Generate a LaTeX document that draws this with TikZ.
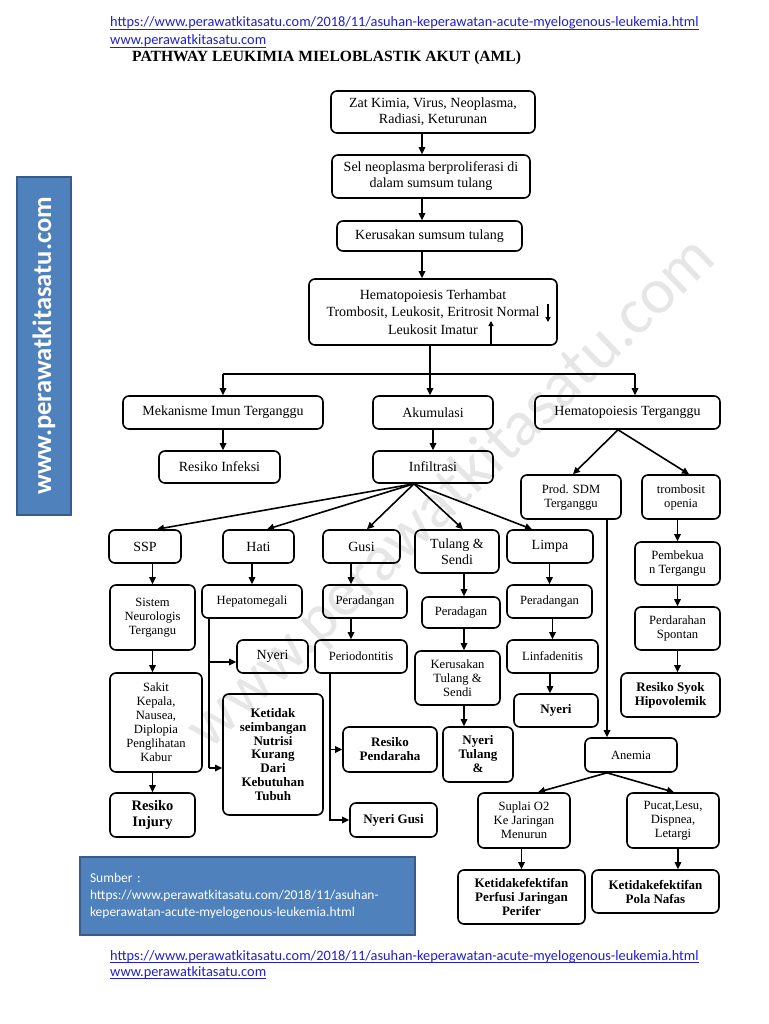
\documentclass[tikz,border=0pt]{standalone}
\usepackage{fontspec}
\setmainfont{Liberation Serif}
\newfontfamily\calib{Carlito}
\usetikzlibrary{arrows.meta,calc}
\definecolor{urlblue}{RGB}{32,32,200}
\definecolor{sideblue}{RGB}{79,129,189}
\definecolor{sideedge}{RGB}{56,93,138}
\definecolor{wmark}{RGB}{230,230,230}
\newcommand\mkbox[7]{%
 \pgfmathsetmacro\bw{#5-#3}\pgfmathsetmacro\bh{#6-#4}%
 \pgfmathsetmacro\bcx{(#3+#5)/2}\pgfmathsetmacro\bcy{(#4+#6)/2}%
 \node[#1, minimum width=\bw pt, minimum height=\bh pt] (#2) at (\bcx,\bcy) {#7};}
\begin{document}
\begin{tikzpicture}[x=1pt,y=-1pt,
  box/.style={draw, rounded corners=6pt, line width=1.6pt, align=center, inner sep=0pt, font=\fontsize{14}{16}\selectfont},
  sbox/.style={box, font=\fontsize{12.6}{14}\selectfont},
  bbox/.style={box, font=\bfseries\fontsize{13}{14}\selectfont},
  conn/.style={line width=1.6pt},
  arr/.style={conn, -{Triangle[length=7pt,width=6.5pt]}},
  sarr/.style={line width=1.3pt, -{Triangle[length=5pt,width=5pt]}},
  url/.style={inner sep=0pt, anchor=base west, text=urlblue, font=\calib\fontsize{14.35}{16}\selectfont},
  uline/.style={urlblue, line width=0.8pt},
  panel/.style={fill=sideblue, draw=sideedge, line width=1.5pt}
]
\useasboundingbox (0,0) rectangle (768,1024);
\fill[white] (0,0) rectangle (768,1024);

% watermark
\node[rotate=44, text=wmark, font=\calib\fontsize{65}{70}\selectfont] (wm) at (452,494) {www.perawatkitasatu.com};

% header
\node[url] (u1) at (110,27) {https://www.perawatkitasatu.com/2018/11/asuhan-keperawatan-acute-myelogenous-leukemia.html};
\draw[uline] ([yshift=-2pt]u1.base west) -- ([yshift=-2pt]u1.base east);
\node[url] (u2) at (110,45) {www.perawatkitasatu.com};
\draw[uline] ([yshift=-2pt]u2.base west) -- ([yshift=-2pt]u2.base east);
\node[anchor=base west, inner sep=0pt, font=\bfseries\fontsize{15.6}{18}\selectfont] (title) at (132,62) {PATHWAY LEUKIMIA MIELOBLASTIK AKUT (AML)};

% side panel
\node[panel, rotate=90, minimum width=338pt, minimum height=54pt, inner sep=0pt, text=white, font=\calib\bfseries\fontsize{26.5}{30}\selectfont] (side) at (44,346) {www.perawatkitasatu.com};

% main chain
\mkbox{box}{n1}{331}{91}{535}{133}{Zat Kimia, Virus, Neoplasma,\\Radiasi, Keturunan}
\mkbox{box}{n2}{332}{155}{530}{198}{Sel neoplasma berproliferasi di\\dalam sumsum tulang}
\mkbox{box}{n3}{337}{221}{522}{251}{Kerusakan sumsum tulang}
\mkbox{box, font=\fontsize{14}{17.5}\selectfont}{n4}{309}{279}{557}{345}{Hematopoiesis Terhambat\\Trombosit, Leukosit, Eritrosit Normal\hspace*{14pt}\\Leukosit Imatur}

\mkbox{box}{n5}{123}{396}{323}{429}{Mekanisme Imun Terganggu}
\mkbox{box}{n6}{373}{396}{493}{429}{Akumulasi}
\mkbox{box}{n7}{535}{396}{720}{429}{Hematopoiesis Terganggu}
\mkbox{box}{n8}{159}{451}{280}{483}{Resiko Infeksi}
\mkbox{box}{n9}{373}{451}{493}{483}{Infiltrasi}

\mkbox{box}{ssp}{109}{530}{181}{563}{SSP}
\mkbox{box}{hati}{223}{530}{294}{563}{Hati}
\mkbox{box}{gusi}{323}{530}{400}{563}{Gusi}
\mkbox{box}{tul}{415}{530}{499}{573}{Tulang \&\\Sendi}
\mkbox{box}{limpa}{507}{530}{593}{563}{Limpa}

\mkbox{sbox}{sist}{110}{585}{195}{650}{Sistem\\Neurologis\\Tergangu}
\mkbox{sbox}{sak}{110}{673}{202}{772}{Sakit\\Kepala,\\Nausea,\\Diplopia\\Penglihatan\\Kabur}
\mkbox{bbox, font=\bfseries\fontsize{14.5}{15.5}\selectfont}{inj}{110}{793}{195}{837}{Resiko\\Injury}

\mkbox{sbox}{hep}{202}{585}{302}{618}{Hepatomegali}
\mkbox{box}{ny1}{237}{640}{308}{673}{Nyeri}
\mkbox{bbox, font=\bfseries\fontsize{13}{13.7}\selectfont}{ket}{223}{694}{323}{815}{Ketidak\\seimbangan\\Nutrisi\\Kurang\\Dari\\Kebutuhan\\Tubuh}

\mkbox{sbox}{per1}{323}{585}{407}{618}{Peradangan}
\mkbox{sbox}{perio}{315}{640}{407}{673}{Periodontitis}
\mkbox{bbox}{rp}{343}{727}{437}{772}{Resiko\\Pendaraha}
\mkbox{bbox}{ng}{350}{803}{437}{837}{Nyeri Gusi}

\mkbox{sbox}{per3}{422}{597}{500}{628}{Peradagan}
\mkbox{sbox}{ker}{415}{651}{500}{705}{Kerusakan\\Tulang \&\\Sendi}
\mkbox{bbox}{nt}{443}{727}{513}{782}{Nyeri\\Tulang\\\&}

\mkbox{sbox}{per2}{507}{585}{592}{618}{Peradangan}
\mkbox{sbox}{linf}{507}{640}{598}{673}{Linfadenitis}
\mkbox{bbox}{ny2}{514}{694}{598}{727}{Nyeri}

\mkbox{sbox}{prod}{521}{475}{621}{519}{Prod. SDM\\Terganggu}
\mkbox{sbox}{trom}{642}{475}{720}{519}{trombosit\\openia}
\mkbox{sbox}{pemb}{635}{542}{720}{585}{Pembekua\\n Tergangu}
\mkbox{sbox}{perd}{635}{607}{720}{650}{Perdarahan\\Spontan}
\mkbox{bbox}{syok}{621}{673}{720}{717}{Resiko Syok\\Hipovolemik}
\mkbox{sbox}{anem}{585}{738}{677}{772}{Anemia}
\mkbox{sbox}{sup}{478}{793}{570}{848}{Suplai O2\\Ke Jaringan\\Menurun}
\mkbox{sbox}{puc}{627}{793}{719}{848}{Pucat,Lesu,\\Dispnea,\\Letargi}
\mkbox{bbox}{perf}{458}{870}{585}{924}{Ketidakefektifan\\Perfusi Jaringan\\Perifer}
\mkbox{bbox}{pola}{592}{870}{719}{913}{Ketidakefektifan\\Pola Nafas}

% column coordinates
\coordinate (cx) at (422,0);
\coordinate (sp) at (430,374);
\coordinate (spR) at (635,374);
\coordinate (gx) at (351,0);
\coordinate (px) at (330,0);
\coordinate (hb1) at (209,662);
\coordinate (hb2) at (209,768);
\coordinate (tx) at (464,0);
\coordinate (lx) at (550,0);
\coordinate (ax) at (607,0);
\coordinate (rx) at (677.5,0);
\coordinate (qx) at (678,0);
\coordinate (dnA) at (548,304);
\coordinate (dnB) at (548,322);
\coordinate (upA) at (491,345);
\coordinate (upB) at (491,321);

% arrows inside n4
\draw[sarr] (dnA) -- (dnB);
\draw[sarr] (upA) -- (upB);

% main chain connectors
\draw[arr] (cx |- n1.south) -- (cx |- n2.north);
\draw[arr] (cx |- n2.south) -- (cx |- n3.north);
\draw[arr] (cx |- n3.south) -- (cx |- n4.north);
\draw[conn] (sp |- n4.south) -- (sp);
\draw[conn] (n5.north |- sp) -- (spR);
\draw[arr] (n5.north |- sp) -- (n5.north);
\draw[arr] (sp) -- (sp |- n6.north);
\draw[arr] (spR) -- (spR |- n7.north);
\draw[arr] (n5.south) -- (n5.south |- n8.north);
\draw[arr] (n6.south) -- (n9.north);

% infiltrasi fan
\coordinate (fo) at ([xshift=-19pt]n9.south);
\draw[arr] (fo) -- ([xshift=12pt]ssp.north);
\draw[arr] (fo) -- ([xshift=8.5pt]hati.north);
\draw[arr] (fo) -- ([xshift=5.5pt]gusi.north);
\draw[arr] (fo) -- ([xshift=6pt]tul.north);
\draw[arr] (fo) -- ([xshift=-18pt]limpa.north);

% SSP column
\draw[arr] (sist.north |- ssp.south) -- (sist.north);
\draw[arr] (sist.south) -- (sist.south |- sak.north);
\draw[arr] (inj.north |- sak.south) -- (inj.north);

% Hati column
\draw[arr] (hep.north |- hati.south) -- (hep.north);
\draw[conn] (hb1 |- hep.south) -- (hb2);
\draw[arr] (hb1) -- (ny1.west |- hb1);
\draw[arr] (hb2) -- (ket.west |- hb2);

% Gusi column
\draw[arr] (gx |- gusi.south) -- (gx |- per1.north);
\draw[arr] (gx |- per1.south) -- (gx |- perio.north);
\draw[arr] (px |- perio.south) |- (ng.west);
\draw[arr] (px |- rp.west) -- (rp.west);

% Tulang column
\draw[arr] (tx |- tul.south) -- (tx |- per3.north);
\draw[arr] (tx |- per3.south) -- (tx |- ker.north);
\draw[arr] (tx |- ker.south) -- (tx |- nt.north);

% Limpa column
\draw[arr] (per2.north |- limpa.south) -- (per2.north);
\draw[arr] (linf.north |- per2.south) -- (linf.north);
\draw[arr] (lx |- linf.south) -- (lx |- ny2.north);

% Hematopoiesis terganggu
\coordinate (ho) at ([xshift=-9.5pt]n7.south);
\draw[arr] (ho) -- ([xshift=2pt]prod.north);
\draw[arr] (ho) -- ([xshift=8pt]trom.north);
\draw[arr] (rx |- trom.south) -- (rx |- pemb.north);
\draw[arr] (rx |- pemb.south) -- (rx |- perd.north);
\draw[arr] (rx |- perd.south) -- (rx |- syok.north);
\draw[arr] (ax |- prod.south) -- (ax |- anem.north);

% Anemia
\coordinate (ao) at ([xshift=-24pt]anem.south);
\draw[arr] (ao) -- ([xshift=14pt]sup.north);
\draw[arr] (ao) -- ([xshift=1pt]puc.north);
\draw[arr] (perf.north |- sup.south) -- (perf.north);
\draw[arr] (qx |- puc.south) -- (qx |- pola.north);

% source box
\node[panel, minimum width=335pt, minimum height=78pt, text width=315pt, inner sep=0pt, align=left, text=white, font=\calib\fontsize{13.5}{17}\selectfont] (sumber) at (247.5,896) {Sumber :\\https://www.perawatkitasatu.com/2018/11/asuhan-\\keperawatan-acute-myelogenous-leukemia.html};

% footer
\node[url] (u3) at (110,960) {https://www.perawatkitasatu.com/2018/11/asuhan-keperawatan-acute-myelogenous-leukemia.html};
\draw[uline] ([yshift=-2pt]u3.base west) -- ([yshift=-2pt]u3.base east);
\node[url] (u4) at (110,976) {www.perawatkitasatu.com};
\draw[uline] ([yshift=-2pt]u4.base west) -- ([yshift=-2pt]u4.base east);
\end{tikzpicture}
\end{document}
